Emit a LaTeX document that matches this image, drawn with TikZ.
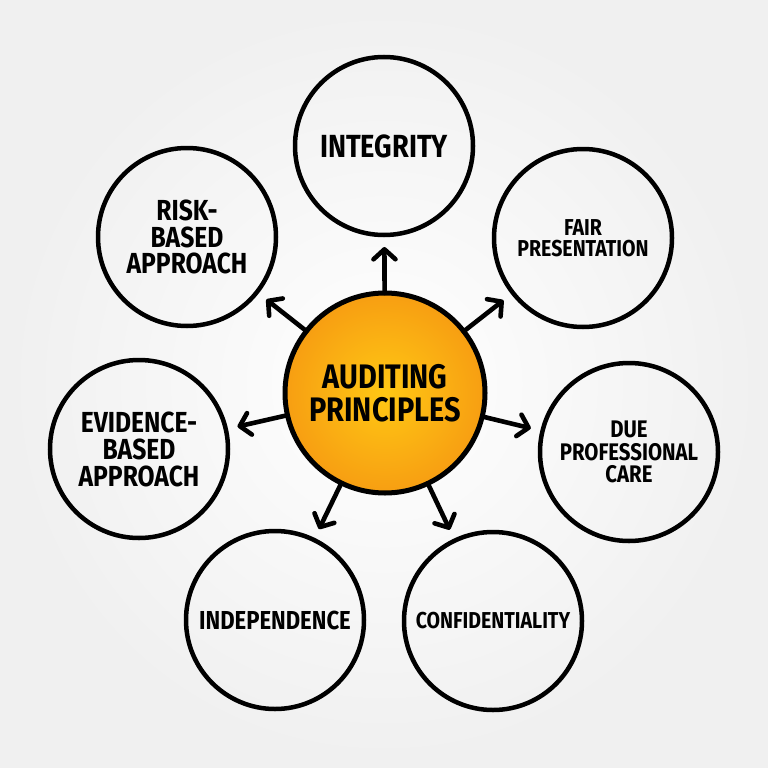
\documentclass[tikz,border=0pt]{standalone}
\usepackage{fontspec}
\newfontfamily\hand{Fira Sans}[FakeStretch=0.85]
\usetikzlibrary{arrows.meta}
\definecolor{hubin}{RGB}{255,200,20}
\definecolor{hubout}{RGB}{247,158,18}
\begin{document}
\begin{tikzpicture}[x=1pt,y=-1pt,
  sat/.style={circle,draw=black,line width=4.5pt,minimum size=178pt,inner sep=0pt,outer sep=0pt,align=center},
  hub/.style={circle,draw=black,line width=5pt,minimum size=200pt,inner sep=0pt,outer sep=0pt,inner color=hubin,outer color=hubout,align=center},
  arr/.style={line width=4.6pt,line cap=round,-{Straight Barb[length=10pt,width=22pt,line cap=round,line join=round]},shorten >=12pt}]
\useasboundingbox (0,0) rectangle (768,768);
\shade[inner color=white,outer color=black!6] (0,0) rectangle (768,768);
\node[hub,font={\hand\bfseries\fontsize{34}{33}\selectfont}] (c) at (385,393) {AUDITING\\PRINCIPLES};
\node[sat,font={\hand\bfseries\fontsize{32}{30}\selectfont}] (integ) at (384,146) {INTEGRITY};
\node[sat,font={\hand\bfseries\fontsize{23}{21}\selectfont}] (fair) at (583,238) {FAIR\\PRESENTATION};
\node[sat,font={\hand\bfseries\fontsize{24}{22.5}\selectfont}] (due) at (629,452) {DUE\\PROFESSIONAL\\CARE};
\node[sat,font={\hand\bfseries\fontsize{23}{22}\selectfont}] (conf) at (493,621) {CONFIDENTIALITY};
\node[sat,font={\hand\bfseries\fontsize{26}{24}\selectfont}] (indep) at (275,620) {INDEPENDENCE};
\node[sat,font={\hand\bfseries\fontsize{29}{27}\selectfont}] (evid) at (139,449) {EVIDENCE-\\BASED\\APPROACH};
\node[sat,font={\hand\bfseries\fontsize{29}{26.5}\selectfont}] (risk) at (187,237) {RISK-\\BASED\\APPROACH};
\foreach \t in {integ,fair,due,conf,indep,evid,risk}
  \draw[arr] (c) -- (\t);
\end{tikzpicture}
\end{document}
